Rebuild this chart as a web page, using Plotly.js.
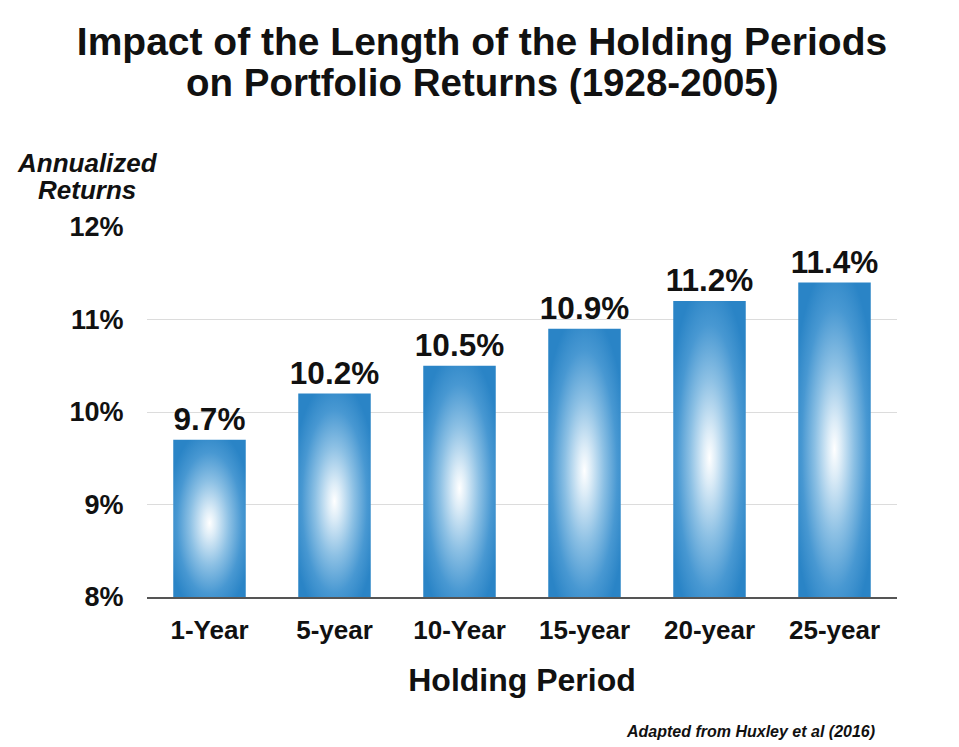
<!DOCTYPE html>
<html>
<head>
<meta charset="utf-8">
<script src="https://cdn.plot.ly/plotly-3.0.1.min.js"></script>
<style>
  html, body { margin: 0; padding: 0; background: #ffffff; }
  #chart { width: 959px; height: 747px; }
</style>
</head>
<body>
<div id="chart"></div>
<script>
// Holding periods and their annualized returns (%), 1928-2005
const periods = ['1-Year', '5-year', '10-Year', '15-year', '20-year', '25-year'];
const returns = [9.7, 10.2, 10.5, 10.9, 11.2, 11.4];
const barLabels = returns.map(v => v.toFixed(1) + '%');
const yTicks = [8, 9, 10, 11, 12];
const axisFloor = 8;   // the value axis starts at 8%

const FONT = 'Liberation Sans, Arial, Helvetica, sans-serif';

// plot-area box in page pixels, used to place the free-standing labels
const W = 959, H = 747;
const M = { l: 147, r: 62, t: 227, b: 150 };
const px2x = px => (px - M.l) / (W - M.l - M.r);
const py2y = py => (H - M.b - py) / (H - M.t - M.b);

const trace = {
  type: 'bar',
  x: periods,
  // bars rise from the 8% floor up to each return
  base: axisFloor,
  y: returns.map(v => v - axisFloor),
  marker: { color: '#2a84c6', line: { width: 0 } },
  text: barLabels,
  texttemplate: '%{text}',
  textposition: 'outside',
  constraintext: 'none',
  textfont: { family: FONT, size: 31.5, color: '#111111', weight: 'bold' },
  cliponaxis: false,
  hoverinfo: 'none'
};

const layout = {
  width: W,
  height: H,
  margin: M,
  paper_bgcolor: '#ffffff',
  plot_bgcolor: '#ffffff',
  bargap: 0.42,
  showlegend: false,
  font: { family: FONT, color: '#111111' },
  title: {
    text: '<b>Impact of the Length of the Holding Periods</b>',
    font: { family: FONT, size: 39, color: '#111111' },
    xref: 'container', x: 482 / W, xanchor: 'center',
    yref: 'container', y: 1 - 41 / H, yanchor: 'middle'
  },
  xaxis: {
    type: 'category',
    range: [-0.5, 5.5],
    showgrid: false,
    showline: true,
    linecolor: '#555555',
    linewidth: 1.5,
    ticks: 'outside',
    ticklen: 9,
    tickcolor: 'rgba(0,0,0,0)',
    tickfont: { family: FONT, size: 26, color: '#111111', weight: 'bold' },
    title: {
      text: '<b>Holding Period</b>',
      font: { family: FONT, size: 32, color: '#111111' },
      standoff: 25
    },
    fixedrange: true
  },
  yaxis: {
    range: [8, 12],
    tickvals: yTicks,
    ticktext: yTicks.map(v => v + '%'),
    showgrid: true,
    gridcolor: '#dcdcdc',
    gridwidth: 1,
    zeroline: false,
    showline: false,
    ticks: 'outside',
    ticklen: 17,
    tickcolor: 'rgba(0,0,0,0)',
    tickfont: { family: FONT, size: 27, color: '#111111', weight: 'bold' },
    fixedrange: true
  },
  annotations: [
    {
      text: '<b>on Portfolio Returns (1928-2005)</b>',
      xref: 'paper', yref: 'paper',
      x: px2x(482), y: py2y(82), xanchor: 'center', yanchor: 'middle',
      showarrow: false,
      font: { family: FONT, size: 38.5, color: '#111111' }
    },
    {
      text: '<b><i>Annualized</i></b>',
      xref: 'paper', yref: 'paper',
      x: px2x(87), y: py2y(163), xanchor: 'center', yanchor: 'middle',
      showarrow: false,
      font: { family: FONT, size: 26, color: '#111111' }
    },
    {
      text: '<b><i>Returns</i></b>',
      xref: 'paper', yref: 'paper',
      x: px2x(87), y: py2y(190), xanchor: 'center', yanchor: 'middle',
      showarrow: false,
      font: { family: FONT, size: 26, color: '#111111' }
    },
    {
      text: '<b><i>Adapted from Huxley et al (2016)</i></b>',
      xref: 'paper', yref: 'paper',
      x: px2x(877), y: py2y(731), xanchor: 'right', yanchor: 'middle',
      showarrow: false,
      font: { family: FONT, size: 16, color: '#111111' }
    }
  ]
};

// Glossy fill: white glow in the middle of each bar fading to blue at the edges
function applyBarGlow(gd) {
  const svg = gd.querySelector('svg.main-svg');
  if (!svg) return;
  const ns = 'http://www.w3.org/2000/svg';
  let defs = svg.querySelector('defs');
  if (!defs) { defs = document.createElementNS(ns, 'defs'); svg.insertBefore(defs, svg.firstChild); }
  if (!svg.querySelector('#barGlow')) {
    const grad = document.createElementNS(ns, 'radialGradient');
    grad.setAttribute('id', 'barGlow');
    grad.setAttribute('gradientUnits', 'objectBoundingBox');
    grad.setAttribute('cx', '0.5'); grad.setAttribute('cy', '0.53');
    grad.setAttribute('fx', '0.5'); grad.setAttribute('fy', '0.53');
    grad.setAttribute('r', '0.6');
    [['0', '#ffffff'], ['0.15', '#dcecf7'], ['0.45', '#8cc0e4'], ['0.75', '#4898d2'], ['1', '#2a84c6']]
      .forEach(([o, c]) => {
        const s = document.createElementNS(ns, 'stop');
        s.setAttribute('offset', o);
        s.setAttribute('stop-color', c);
        grad.appendChild(s);
      });
    defs.appendChild(grad);
  }
  gd.querySelectorAll('.barlayer .point path').forEach(p => {
    p.style.fill = 'url(#barGlow)';
  });
}

const gd = document.getElementById('chart');
Plotly.newPlot(gd, [trace], layout, { displayModeBar: false, staticPlot: true })
  .then(() => applyBarGlow(gd));
</script>
</body>
</html>
